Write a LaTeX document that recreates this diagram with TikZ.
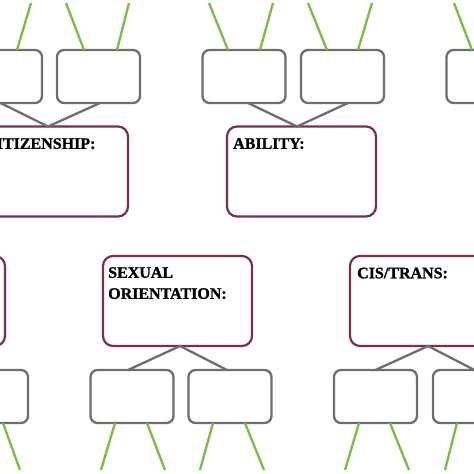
\documentclass[tikz,border=0pt]{standalone}
\usepackage{fontspec}
\setmainfont{Liberation Serif}[BoldFeatures={FakeBold=1.2}]
\usetikzlibrary{calc}
\definecolor{boxgray}{HTML}{6E6E6E}
\definecolor{maroon}{HTML}{7A2F4C}
\definecolor{leaf}{HTML}{78BE43}
\begin{document}
\begin{tikzpicture}[x=1pt,y=-1pt,
  small/.style={draw=boxgray, line width=2.3pt, rounded corners=7pt, minimum width=83pt, minimum height=53pt, inner sep=0pt, outer sep=0pt},
  big/.style={draw=maroon, line width=2.2pt, rounded corners=10pt, minimum width=149pt, minimum height=90pt, inner sep=0pt, outer sep=0pt},
  lbl/.style={anchor=north west, inner sep=0pt, align=left, font=\bfseries\fontsize{16}{21}\selectfont},
  link/.style={draw=boxgray, line width=2.3pt},
  stem/.style={draw=leaf, line width=2.3pt}]
\useasboundingbox (0,0) rectangle (474,474);
\fill[white] (0,0) rectangle (474,474);
\clip (0,0) rectangle (474,474);

% top row small boxes
\node[small] (A) at (0.5,76.5) {};
\node[small] (B) at (98.5,76.5) {};
\node[small] (C) at (244,76.5) {};
\node[small] (D) at (342.5,76.5) {};
\node[small] (E) at (488,76.5) {};
% top row big boxes
\node[big] (cit) at (53.5,171.5) {};
\node[big] (abl) at (301.5,171.5) {};
% bottom row big boxes
\node[big] (bl) at (-69.5,301) {};
\node[big] (sex) at (177.5,301) {};
\node[big] (cis) at (424.5,301) {};
% bottom row small boxes
\node[small] (F) at (-13.5,396.5) {};
\node[small] (G) at (132,396.5) {};
\node[small] (H) at (230,396.5) {};
\node[small] (I) at (375.5,396.5) {};
\node[small] (J) at (474.5,396.5) {};

% labels
\node[lbl] (tcit) at ($(cit.north west)+(6,11.5)$) {CITIZENSHIP:};
\node[lbl] (tabl) at ($(abl.north west)+(6,11.5)$) {ABILITY:};
\node[lbl] (tsex) at ($(sex.north west)+(5,11)$) {SEXUAL\\ORIENTATION:};
\node[lbl] (tcis) at ($(cis.north west)+(7,11.5)$) {CIS/TRANS:};

% meeting points
\coordinate (mcit) at ($(cit.north)+(-5.5,0)$);
\coordinate (mabl) at ($(abl.north)+(-4.5,0)$);
\coordinate (msex) at ($(sex.south)+(2.5,0)$);
\coordinate (mcis) at ($(cis.south)+(3.5,0)$);

% gray connectors
\draw[link] ($(A.south)+(0,0)$) -- (mcit) -- ($(B.south)+(1.5,0)$);
\draw[link] ($(C.south)+(4,0)$) -- (mabl) -- ($(D.south)+(5.5,0)$);
\draw[link] ($(G.north)+(-4,0)$) -- (msex) -- ($(H.north)+(-3,0)$);
\draw[link] ($(I.north)+(0,0)$) -- (mcis) -- ($(J.north)+(0,0)$);

% green stems, top
\coordinate (tA2) at (31,3);
\coordinate (tB1) at (66,3);
\coordinate (tB2) at (129,3);
\coordinate (tC1) at (209,3);
\coordinate (tC2) at (273,3);
\coordinate (tD1) at (308,3);
\coordinate (tD2) at (372,3);
\coordinate (tE1) at (454,3);
\draw[stem] ($(A.north)+(16.5,0)$) -- (tA2);
\draw[stem] ($(B.north)+(-14.5,0)$) -- (tB1);
\draw[stem] ($(B.north)+(18.5,0)$) -- (tB2);
\draw[stem] ($(C.north)+(-16,0)$) -- (tC1);
\draw[stem] ($(C.north)+(16,0)$) -- (tC2);
\draw[stem] ($(D.north)+(-15.5,0)$) -- (tD1);
\draw[stem] ($(D.north)+(15.5,0)$) -- (tD2);
\draw[stem] ($(E.north)+(-16,0)$) -- (tE1);

% green stems, bottom
\coordinate (bF2) at (20,470);
\coordinate (bG1) at (101,470);
\coordinate (bG2) at (165,470);
\coordinate (bH1) at (200,470);
\coordinate (bH2) at (264,470);
\coordinate (bI1) at (345,470);
\coordinate (bI2) at (409,470);
\coordinate (bJ1) at (445,470);
\draw[stem] ($(F.south)+(16.5,0)$) -- (bF2);
\draw[stem] ($(G.south)+(-17,0)$) -- (bG1);
\draw[stem] ($(G.south)+(15,0)$) -- (bG2);
\draw[stem] ($(H.south)+(-17,0)$) -- (bH1);
\draw[stem] ($(H.south)+(15,0)$) -- (bH2);
\draw[stem] ($(I.south)+(-16.5,0)$) -- (bI1);
\draw[stem] ($(I.south)+(14.5,0)$) -- (bI2);
\draw[stem] ($(J.south)+(-17.5,0)$) -- (bJ1);
\end{tikzpicture}
\end{document}
